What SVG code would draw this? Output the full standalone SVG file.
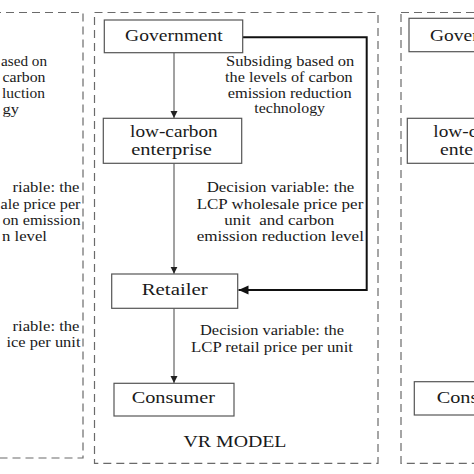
<svg xmlns="http://www.w3.org/2000/svg" width="474" height="474" viewBox="0 0 474 474">
<style>
.panel{fill:none;stroke:#6a6a6a;stroke-width:1.2;stroke-dasharray:8 5}
.box{fill:#fff;stroke:#555;stroke-width:1.2}
.lbl{font-family:"Liberation Serif","Times New Roman",serif;font-size:16.5px;fill:#1a1a1a}
.ann{font-family:"Liberation Serif","Times New Roman",serif;font-size:15px;fill:#1a1a1a}
.thin{fill:none;stroke:#444;stroke-width:1}
.bold{fill:none;stroke:#111;stroke-width:2}
</style>
<defs>
<marker id="arr" markerUnits="userSpaceOnUse" markerWidth="8" markerHeight="8" refX="7" refY="3.5" orient="auto">
<path d="M0,0 L7,3.5 L0,7 z" fill="#222"/>
</marker>
<marker id="arrB" markerUnits="userSpaceOnUse" markerWidth="12" markerHeight="10" refX="10" refY="4.5" orient="auto">
<path d="M0,0 L10,4.5 L0,9 z" fill="#111"/>
</marker>
</defs>
<rect width="474" height="474" fill="#fff"/>

<g id="panel-left">
<rect class="panel" x="-20" y="12.5" width="103" height="445.5"/>
<g class="ann" text-anchor="end">
<text x="47" y="66" textLength="46" lengthAdjust="spacingAndGlyphs">ased on</text>
<text x="45.5" y="82" textLength="43" lengthAdjust="spacingAndGlyphs">carbon</text>
<text x="45" y="98" textLength="43" lengthAdjust="spacingAndGlyphs">luction</text>
<text x="19" y="113.5" textLength="16.5" lengthAdjust="spacingAndGlyphs">gy</text>
<text x="79.5" y="192" textLength="67" lengthAdjust="spacingAndGlyphs">riable: the</text>
<text x="80.5" y="208.5" textLength="80" lengthAdjust="spacingAndGlyphs">ale price per</text>
<text x="80.5" y="224.5" textLength="78" lengthAdjust="spacingAndGlyphs">on emission</text>
<text x="47" y="240.5" textLength="45" lengthAdjust="spacingAndGlyphs">n level</text>
<text x="79.5" y="331" textLength="67" lengthAdjust="spacingAndGlyphs">riable: the</text>
<text x="80.5" y="347" textLength="74" lengthAdjust="spacingAndGlyphs">ice per unit</text>
</g>
</g>

<g id="panel-vr">
<rect class="panel" x="94.5" y="12.5" width="283.5" height="450.8"/>
<text class="lbl" x="235" y="446.7" text-anchor="middle" textLength="103" lengthAdjust="spacingAndGlyphs">VR MODEL</text>
</g>

<g id="connectors">
<line class="thin" x1="174" y1="52.7" x2="174" y2="118" marker-end="url(#arr)"/>
<line class="thin" x1="174" y1="163.3" x2="174" y2="273.8" marker-end="url(#arr)"/>
<line class="thin" x1="174" y1="308.3" x2="174" y2="383" marker-end="url(#arr)"/>
<polyline class="bold" points="242.7,37.3 366.7,37.3 366.7,290 238.5,290" marker-end="url(#arrB)"/>
</g>

<g id="government">
<rect class="box" x="104.3" y="20" width="138.4" height="32.7"/>
<text class="lbl" x="173.9" y="40.7" text-anchor="middle" textLength="97.7" lengthAdjust="spacingAndGlyphs">Government</text>
</g>

<g id="low-carbon-enterprise">
<rect class="box" x="103.3" y="118.3" width="138.4" height="45"/>
<text class="lbl" x="173.9" y="136.7" text-anchor="middle" textLength="87.7" lengthAdjust="spacingAndGlyphs">low-carbon</text>
<text class="lbl" x="171.5" y="155" text-anchor="middle" textLength="80.7" lengthAdjust="spacingAndGlyphs">enterprise</text>
</g>

<g id="retailer">
<rect class="box" x="111.7" y="274" width="126" height="34.3"/>
<text class="lbl" x="174.7" y="295" text-anchor="middle" textLength="66" lengthAdjust="spacingAndGlyphs">Retailer</text>
</g>

<g id="consumer">
<rect class="box" x="114" y="383.3" width="120" height="32.7"/>
<text class="lbl" x="173.3" y="403.3" text-anchor="middle" textLength="83.3" lengthAdjust="spacingAndGlyphs">Consumer</text>
</g>

<g id="label-subsidy" class="ann" text-anchor="middle">
<text x="290.2" y="65.7" textLength="128.3" lengthAdjust="spacingAndGlyphs">Subsiding based on</text>
<text x="288.9" y="82.3" textLength="127.7" lengthAdjust="spacingAndGlyphs">the levels of carbon</text>
<text x="289.7" y="97.7" textLength="124" lengthAdjust="spacingAndGlyphs">emission reduction</text>
<text x="289.7" y="113.3" textLength="70.7" lengthAdjust="spacingAndGlyphs">technology</text>
</g>

<g id="label-wholesale" class="ann" text-anchor="middle">
<text x="280.5" y="191.7" textLength="147.6" lengthAdjust="spacingAndGlyphs">Decision variable: the</text>
<text x="280" y="209.3" textLength="166.6" lengthAdjust="spacingAndGlyphs">LCP wholesale price per</text>
<text x="279.3" y="225" textLength="110" lengthAdjust="spacingAndGlyphs" xml:space="preserve">unit  and carbon</text>
<text x="280.3" y="240.7" textLength="167.3" lengthAdjust="spacingAndGlyphs">emission reduction level</text>
</g>

<g id="label-retail" class="ann" text-anchor="middle">
<text x="272" y="335" textLength="144" lengthAdjust="spacingAndGlyphs">Decision variable: the</text>
<text x="272" y="351.7" textLength="162" lengthAdjust="spacingAndGlyphs">LCP retail price per unit</text>
</g>

<g id="panel-right">
<rect class="panel" x="401" y="12.5" width="100" height="450.8"/>
<g id="government-r">
<rect class="box" x="409" y="18.3" width="80" height="33.4"/>
<text class="lbl" x="430" y="40.7" textLength="48.7" lengthAdjust="spacingAndGlyphs">Gover</text>
</g>
<g id="low-carbon-enterprise-r">
<rect class="box" x="407.3" y="118.3" width="80" height="45"/>
<text class="lbl" x="433.3" y="136.7" textLength="43.9" lengthAdjust="spacingAndGlyphs">low-c</text>
<text class="lbl" x="440" y="155" textLength="33" lengthAdjust="spacingAndGlyphs">ente</text>
</g>
<g id="consumer-r">
<rect class="box" x="414.3" y="381.7" width="80" height="33.3"/>
<text class="lbl" x="436.7" y="403" textLength="41.7" lengthAdjust="spacingAndGlyphs">Cons</text>
</g>
</g>
</svg>
